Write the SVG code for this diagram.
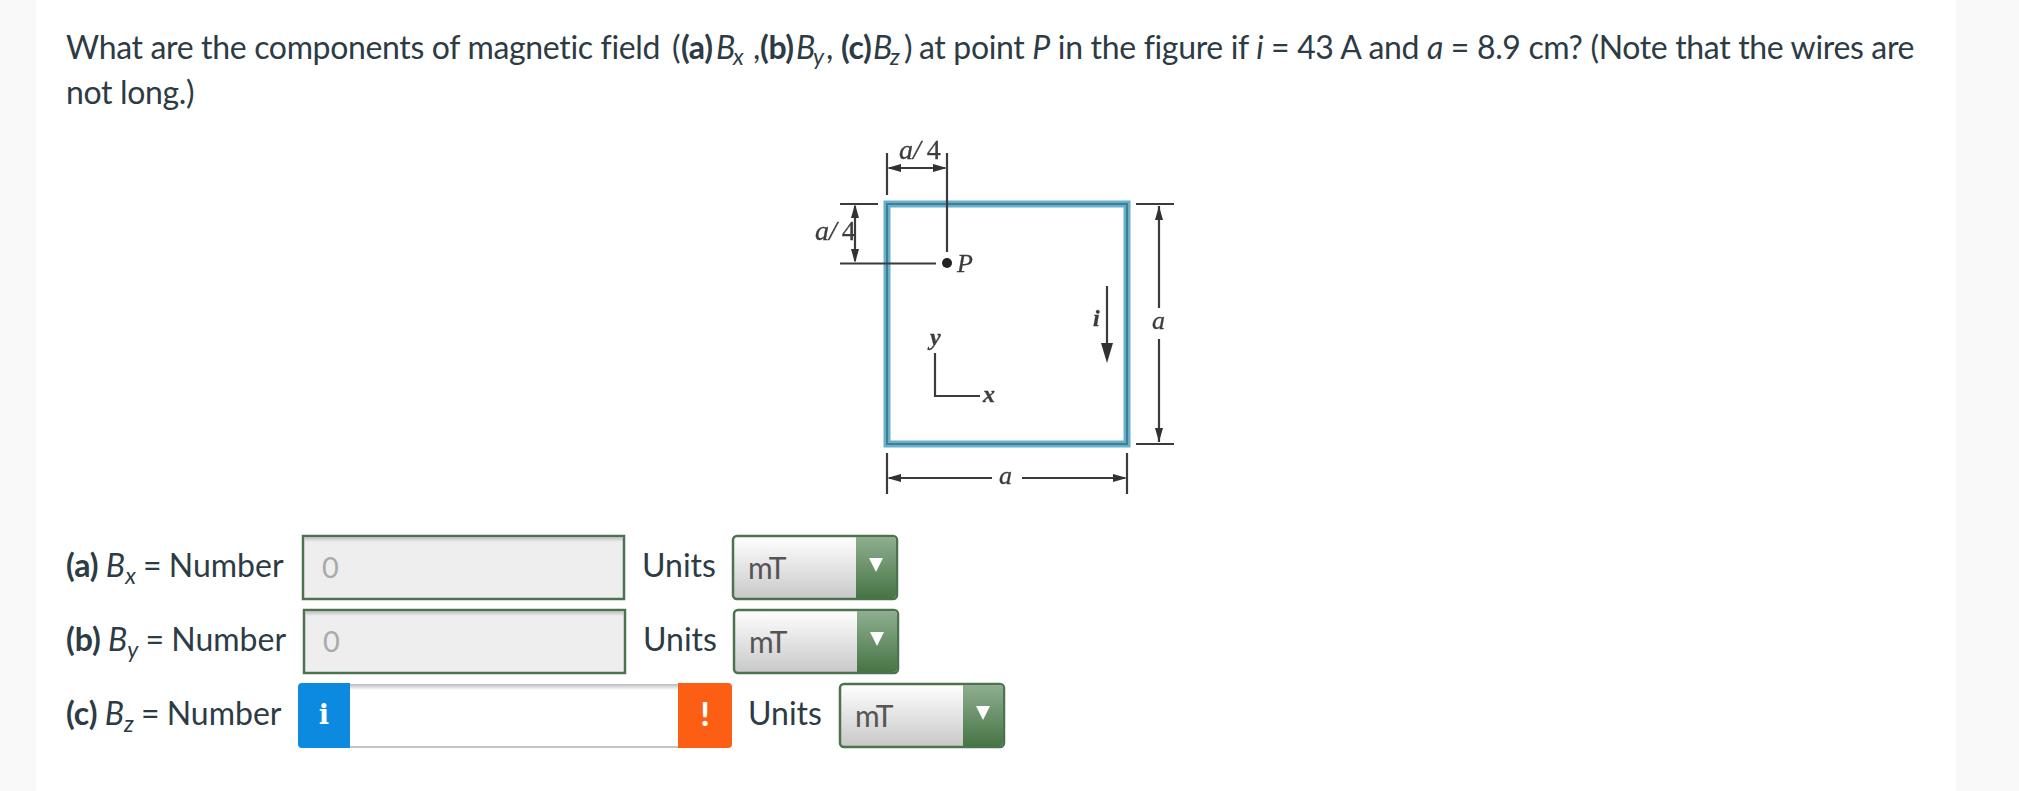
<svg xmlns="http://www.w3.org/2000/svg" width="2019" height="791" viewBox="0 0 2019 791">
<style>
.t{font-family:Lato,"Noto Sans",sans-serif;font-size:32px;fill:#2d3b45;letter-spacing:-0.34px}
.l{font-family:Lato,"Noto Sans",sans-serif;font-size:32px;fill:#2d3b45;word-spacing:-1px}
.m{font-family:Lato,"Noto Sans",sans-serif;font-size:30px;fill:#555;letter-spacing:-0.2px}
.z{font-family:Lato,"Noto Sans",sans-serif;font-size:29px;fill:#aaa}
.b{font-weight:700}.i{font-style:italic}
.s{font-size:23px;font-style:italic}
.f{font-family:"Liberation Serif",serif;font-style:italic;fill:#3c3c3c;stroke:#3c3c3c;stroke-width:0.3}
.u{font-style:normal}
.d{stroke:#3a3a3a;stroke-width:2.2;fill:none}
.inp{fill:#eee;stroke:#4c7350;stroke-width:2.5}
.sel{fill:url(#g1);stroke:#4c7350;stroke-width:2.5}
.btn{fill:url(#g2)}
.tri{fill:#fff}
.ar{fill:#333}
</style>
<defs>
<linearGradient id="g1" x1="0" y1="0" x2="0" y2="1"><stop offset="0" stop-color="#fff"/><stop offset="1" stop-color="#c8c8c8"/></linearGradient>
<linearGradient id="g2" x1="0" y1="0" x2="0" y2="1"><stop offset="0" stop-color="#8fae8f"/><stop offset="1" stop-color="#477545"/></linearGradient>
<linearGradient id="g3" x1="0" y1="0" x2="0" y2="1"><stop offset="0" stop-color="#bbb"/><stop offset="1" stop-color="#bbb" stop-opacity="0"/></linearGradient>
<filter id="soft" x="-5%" y="-5%" width="110%" height="110%"><feGaussianBlur stdDeviation="0.5"/></filter>
</defs>
<rect width="2019" height="791" fill="#f9f9f9"/>
<rect x="36" width="1920" height="791" fill="#fff"/>
<g id="question">
<text class="t" y="59" x="66">What are the components of magnetic field <tspan x="672">(</tspan><tspan class="b" x="681">(a)</tspan><tspan class="i" x="716">B</tspan><tspan class="s" x="733" dy="6">x</tspan><tspan x="753" dy="-6">,</tspan><tspan class="b" x="760">(b)</tspan><tspan class="i" x="796">B</tspan><tspan class="s" x="813" dy="6">y</tspan><tspan x="826" dy="-6">,</tspan><tspan class="b" x="841">(c)</tspan><tspan class="i" x="873">B</tspan><tspan class="s" x="890" dy="6">z</tspan><tspan x="904" dy="-6">)</tspan><tspan x="919">at point </tspan><tspan class="i">P</tspan> in the figure if <tspan class="i">i</tspan> = 43 A and <tspan class="i">a</tspan> = 8.9 cm? (Note that the wires are</text>
<text class="t" y="104" x="66">not long.)</text>
</g>
<g id="figure" filter="url(#soft)">
<g id="square">
<rect x="887" y="204" width="240" height="240" fill="none" stroke="#69afc8" stroke-width="7"/>
<rect x="887" y="204" width="240" height="240" fill="none" stroke="#3a7f98" stroke-width="2"/>
</g>
<g id="connectors">
<path class="d" d="M887 153V195M947 153V252M840 204H878M840 263.500H936M887 453V494M1127 453V494M1136 204H1174M1136 444H1174"/>
<path class="d" d="M889 168H945M855 206V261M889 478H992M1022 478H1125M1159 206V308M1159 339V442M1107 286V350M935 353V396H980"/>
<path class="ar" d="M887 168l14-4v8zM947 168l-14-4v8zM855 204l-4 14h8zM855 263l-4-14h8zM887 478l14-4v8zM1127 478l-14-4v8zM1159 206l-4 14h8zM1159 442l-4-14h8z"/>
<path class="ar" d="M1107 363l-6-20h12z"/>
</g>
<circle id="P-dot" cx="947" cy="263" r="5" fill="#222"/>
<text class="f" font-size="28" x="899" y="159">a/<tspan class="u" dx="6">4</tspan></text>
<text class="f" font-size="28" x="815" y="240">a/<tspan class="u" dx="5">4</tspan></text>
<text class="f" font-size="26" x="957" y="272">P</text>
<text class="f" font-size="24" font-weight="700" x="1093" y="326">i</text>
<text class="f" font-size="24" font-weight="700" x="930" y="345">y</text>
<text class="f" font-size="24" font-weight="700" x="983" y="402">x</text>
<text class="f" font-size="26" x="1152" y="329">a</text>
<text class="f" font-size="26" x="999" y="484">a</text>
</g>
<g id="row-a">
<text class="l" x="66" y="577"><tspan class="b">(a)</tspan> <tspan class="i">B</tspan><tspan class="s" dy="7">x</tspan><tspan dy="-7"> = Number</tspan></text>
<rect class="inp" x="303" y="536" width="321" height="63"/>
<rect x="304" y="537" width="319" height="5" fill="url(#g3)"/>
<text class="z" x="322" y="578">0</text>
<text class="l" x="642" y="577">Units</text>
<rect class="sel" x="733" y="536" width="164" height="63" rx="4"/>
<path class="btn" d="M856 537H892a4 4 0 0 1 4 4V594a4 4 0 0 1-4 4H856z"/>
<path class="tri" d="M869 558H883L876 572z"/>
<text class="m" x="748" y="579">mT</text>
</g>
<g id="row-b">
<text class="l" x="66" y="651"><tspan class="b">(b)</tspan> <tspan class="i">B</tspan><tspan class="s" dy="7">y</tspan><tspan dy="-7"> = Number</tspan></text>
<rect class="inp" x="304" y="610" width="321" height="63"/>
<rect x="305" y="611" width="319" height="5" fill="url(#g3)"/>
<text class="z" x="323" y="652">0</text>
<text class="l" x="643" y="651">Units</text>
<rect class="sel" x="734" y="610" width="164" height="63" rx="4"/>
<path class="btn" d="M857 611H893a4 4 0 0 1 4 4V668a4 4 0 0 1-4 4H857z"/>
<path class="tri" d="M870 632H884L877 646z"/>
<text class="m" x="749" y="653">mT</text>
</g>
<g id="row-c">
<text class="l" x="66" y="725"><tspan class="b">(c)</tspan> <tspan class="i">B</tspan><tspan class="s" dy="7">z</tspan><tspan dy="-7"> = Number</tspan></text>
<path d="M350 684H678V747H350z" fill="#fff"/>
<rect x="350" y="684" width="328" height="6" fill="url(#g3)"/>
<rect x="350" y="746" width="328" height="2" fill="#c4c4c4"/>
<path d="M350 683H302a4 4 0 0 0-4 4V744a4 4 0 0 0 4 4H350z" fill="#0b8ae0"/>
<text x="324" y="724" text-anchor="middle" font-family="'DejaVu Serif',serif" font-weight="700" font-size="27" fill="#fff">i</text>
<path d="M678 683H728a4 4 0 0 1 4 4V744a4 4 0 0 1-4 4H678z" fill="#fc5e13"/>
<text x="705" y="726" text-anchor="middle" font-family="Lato,sans-serif" font-weight="900" font-size="32" fill="#fff">!</text>
<text class="l" x="748" y="725">Units</text>
<rect class="sel" x="840" y="684" width="164" height="63" rx="4"/>
<path class="btn" d="M963 685H999a4 4 0 0 1 4 4V742a4 4 0 0 1-4 4H963z"/>
<path class="tri" d="M976 706H990L983 720z"/>
<text class="m" x="855" y="727">mT</text>
</g>
</svg>
